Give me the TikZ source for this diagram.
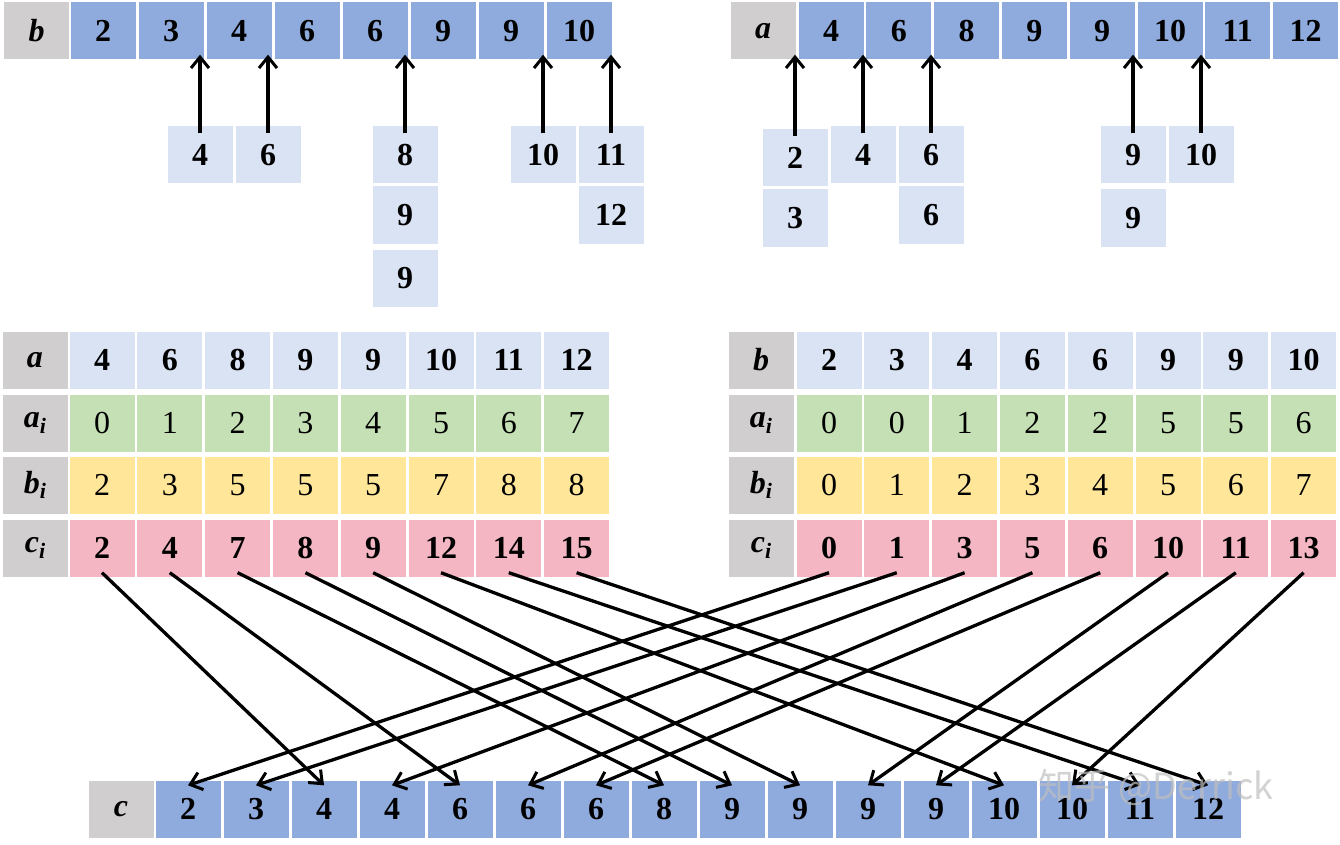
\documentclass[tikz,border=0pt]{standalone}
\usepackage{fontspec}
\setmainfont{Liberation Serif}
\newfontfamily\cjk{Noto Sans CJK SC}
\usetikzlibrary{arrows.meta}
\definecolor{mblue}{HTML}{8FAADC}
\definecolor{lblue}{HTML}{DAE3F3}
\definecolor{lgreen}{HTML}{C5E0B4}
\definecolor{lyellow}{HTML}{FFE699}
\definecolor{lpink}{HTML}{F4B6C2}
\definecolor{lgray}{HTML}{D0CECE}
\newcommand\subi{\raisebox{-0.35ex}{\fontsize{22}{24}\selectfont i}}
\tikzset{
 cell/.style={minimum width=65pt,minimum height=57pt,inner sep=0pt,font=\fontsize{32}{36}\selectfont\bfseries},
 lcell/.style={cell,fill=lgray,font=\fontsize{32}{36}\selectfont\bfseries\itshape},
 ncell/.style={cell,font=\fontsize{32}{36}\selectfont},
 arr/.style={line width=3.3pt,-{Straight Barb[length=11pt,width=18pt,line width=3pt]}},
}
\begin{document}
\begin{tikzpicture}[x=1pt,y=-1pt]
\useasboundingbox (0,0) rectangle (1340,845);
% top-left b row
\node[lcell] (TB) at (36.5,31) {b};
\foreach \v [count=\i from 0] in {2,3,4,6,6,9,9,10}
  \node[cell,fill=mblue] (TB\i) at (103+68*\i,31) {\v};
% top-right a row
\node[lcell] (TA) at (763,31) {a};
\foreach \v [count=\i from 0] in {4,6,8,9,9,10,11,12}
  \node[cell,fill=mblue] (TA\i) at (831+67.8*\i,31) {\v};
% boxes under rows
\foreach \n/\x/\y/\v in {p1/200/155/4,p2/268/155/6,p3/405/155/8,p4/405/215/9,p5/405/278/9,p6/543/155/10,p7/611/155/11,p8/611/215/12,
  q1/795/158/2,q2/795/218/3,q3/863/155/4,q4/931/155/6,q5/931/215/6,q6/1133/155/9,q7/1133/218/9,q8/1201/155/10}
  \node[cell,fill=lblue] (\n) at (\x,\y) {\v};
\foreach \n in {p1,p2,p3,p6,p7}
  \draw[arr] ([yshift=-7pt]\n.north) -- ([yshift=5pt]\n.north |- TB0.south);
\foreach \n in {q1,q3,q4,q6,q8}
  \draw[arr] ([yshift=-7pt]\n.north) -- ([yshift=5pt]\n.north |- TA0.south);
% middle tables
\foreach \side/\lab/\lx/\cx/\top/\ai/\bi/\ci in {
  L/a/35/102/{4,6,8,9,9,10,11,12}/{0,1,2,3,4,5,6,7}/{2,3,5,5,5,7,8,8}/{2,4,7,8,9,12,14,15},
  R/b/761/829/{2,3,4,6,6,9,9,10}/{0,0,1,2,2,5,5,6}/{0,1,2,3,4,5,6,7}/{0,1,3,5,6,10,11,13}}{
  \node[lcell] (\side l0) at (\lx,360) {\lab};
  \node[lcell] (\side l1) at (\lx,423) {a\subi};
  \node[lcell] (\side l2) at (\lx,485) {b\subi};
  \node[lcell] (\side l3) at (\lx,548) {c\subi};
  \foreach \v [count=\i from 0] in \top \node[cell,fill=lblue] (\side a\i) at (\cx+67.8*\i,360) {\v};
  \foreach \v [count=\i from 0] in \ai \node[ncell,fill=lgreen] (\side x\i) at (\cx+67.8*\i,423) {\v};
  \foreach \v [count=\i from 0] in \bi \node[ncell,fill=lyellow] (\side y\i) at (\cx+67.8*\i,485) {\v};
  \foreach \v [count=\i from 0] in \ci \node[cell,fill=lpink] (\side c\i) at (\cx+67.8*\i,548) {\v};
}
% bottom c row
\node[lcell] (C) at (121,809) {c};
\foreach \v [count=\i from 0] in {2,3,4,4,6,6,6,8,9,9,9,9,10,10,11,12}
  \node[cell,fill=mblue] (C\i) at (188+68*\i,809) {\v};
% arrows
\foreach \s/\t in {0/2,1/4,2/7,3/8,4/9,5/12,6/14,7/15}
  \draw[arr] ([yshift=4pt]Lc\s.south) -- ([yshift=-5pt]C\t.north);
\foreach \s/\t in {0/0,1/1,2/3,3/5,4/6,5/10,6/11,7/13}
  \draw[arr] ([yshift=4pt]Rc\s.south) -- ([yshift=-5pt]C\t.north);
% watermark
\node[text=gray!50,opacity=0.7,font=\cjk\fontsize{36}{40}\selectfont,anchor=west] (wm) at (1035,787) {知乎 @Derrick};
\end{tikzpicture}
\end{document}
